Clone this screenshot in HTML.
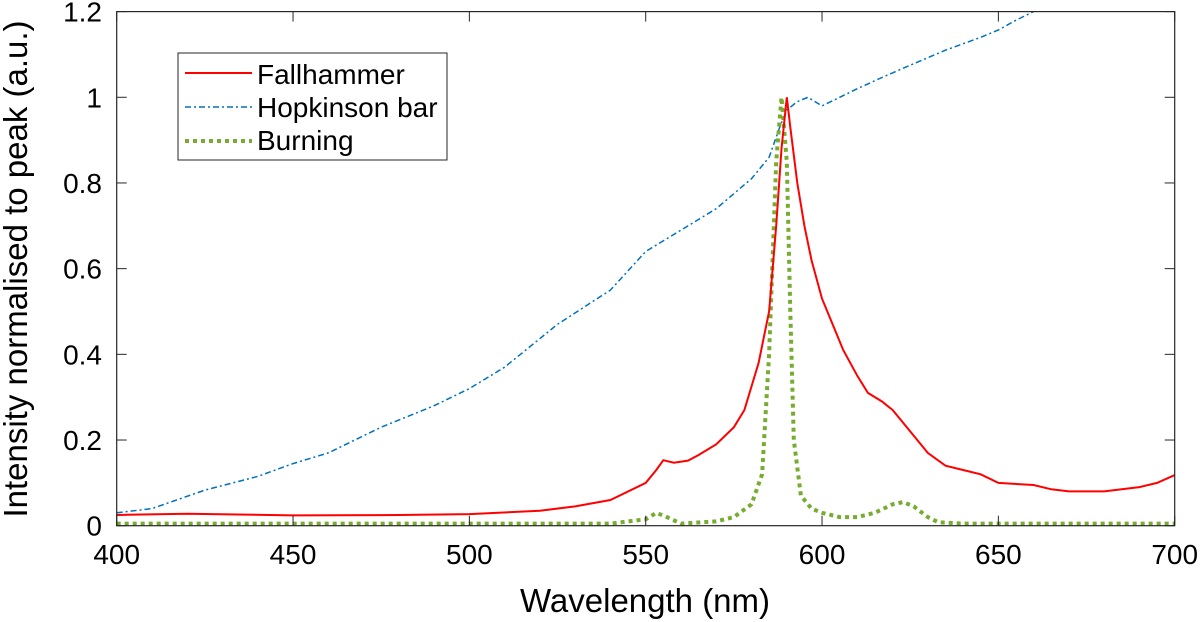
<!DOCTYPE html>
<html><head><meta charset="utf-8"><style>
html,body{margin:0;padding:0;background:#fff;}
svg{display:block;font-family:"Liberation Sans",Arial,sans-serif;}
</style></head><body>
<svg id="chart" width="1200" height="622">
<g id="marks"></g>
<rect x="116.7" y="11.6" width="1058" height="514.1" fill="none" stroke="#262626" stroke-width="1.2"/>
<g id="axes"></g>
<text x="645" y="612" font-size="33" text-anchor="middle" fill="#000">Wavelength (nm)</text>
<text transform="translate(27,269) rotate(-90)" font-size="33" text-anchor="middle" fill="#000">Intensity normalised to peak (a.u.)</text>
<g>
<rect x="178" y="53" width="269" height="107" fill="#fff" stroke="#262626" stroke-width="1"/>
<g>
<line x1="185" y1="73" x2="252" y2="73" stroke="#ff0000" stroke-width="2"/>
<text x="257" y="84" font-size="28" fill="#000">Fallhammer</text></g>
<g>
<line x1="185" y1="107" x2="252" y2="107" stroke="#0072bd" stroke-width="1.5" stroke-dasharray="6,3,2,3"/>
<text x="257" y="117" font-size="28" fill="#000">Hopkinson bar</text></g>
<g>
<line x1="185" y1="141" x2="252" y2="141" stroke="#77ac30" stroke-width="4" stroke-dasharray="4,4"/>
<text x="257" y="150" font-size="28" fill="#000">Burning</text></g>
</g>
</svg>
<script>
const xTicks=[400,450,500,550,600,650,700];
const yTicks=[0,0.2,0.4,0.6,0.8,1,1.2];
const yTickLabels=["0","0.2","0.4","0.6","0.8","1","1.2"];
const fallX=[400,420,450,480,500,520,530,540,550,553,555,558,562,565,570,575,578,582,585,587,588.5,590,591,593,595,597,600,603,606,610,613,617,620,625,630,635,640,645,650,660,665,670,680,690,695,700];
const fallY=[0.025,0.028,0.024,0.025,0.027,0.035,0.045,0.06,0.1,0.13,0.153,0.147,0.152,0.165,0.19,0.23,0.27,0.38,0.5,0.7,0.88,1.0,0.93,0.8,0.7,0.62,0.53,0.47,0.41,0.35,0.31,0.29,0.27,0.22,0.17,0.14,0.13,0.12,0.1,0.095,0.085,0.08,0.08,0.09,0.1,0.118];
const hopX=[400,410,425,440,450,460,475,490,500,510,525,540,550,560,570,580,585,588,590,593,596,600,605,610,618,625,635,645,650,655,660];
const hopY=[0.03,0.04,0.083,0.115,0.145,0.17,0.23,0.28,0.32,0.37,0.47,0.55,0.64,0.69,0.74,0.81,0.86,0.93,0.97,0.99,1.0,0.98,1.0,1.02,1.05,1.075,1.11,1.14,1.157,1.18,1.21];
const burnX=[400,540,550,553,556,560,570,575,580,583,585,587,588.5,590,591,592,594,597,600,605,610,615,620,623,626,630,633,640,700];
const burnY=[0.005,0.005,0.015,0.03,0.02,0.005,0.01,0.02,0.05,0.12,0.4,0.85,1.0,0.85,0.5,0.2,0.07,0.04,0.03,0.02,0.02,0.03,0.05,0.055,0.045,0.02,0.008,0.005,0.005];
const NS="http://www.w3.org/2000/svg";
const X0=116.7,X1=1174.7,Y0=525.7,Y1=11.6;
function sx(v){return X0+(v-400)/300*(X1-X0);}
function sy(v){return Y0-(v/1.2)*(Y0-Y1);}
const marks=document.getElementById('marks'),axes=document.getElementById('axes');
function clipY(v){return Math.max(Y1,sy(v));}
function line(xs,ys,color,w,dash,name){
  const p=document.createElementNS(NS,'polyline');
  p.setAttribute('points',xs.map((x,i)=>sx(x).toFixed(1)+','+clipY(ys[i]).toFixed(1)).join(' '));
  p.setAttribute('fill','none');p.setAttribute('stroke',color);p.setAttribute('stroke-width',w);
  if(dash)p.setAttribute('stroke-dasharray',dash);
  
  
  marks.appendChild(p);
}
line(hopX,hopY,'#0072bd',1.5,'6,3,2,3','series-hopkinson-bar');
line(burnX,burnY,'#77ac30',4,'4,4','series-burning');
line(fallX,fallY,'#ff0000',2,null,'series-fallhammer');
xTicks.forEach(v=>{
  const x=sx(v);
  [[Y0,Y0-10],[Y1,Y1+10]].forEach(([a,b])=>{const l=document.createElementNS(NS,'line');
  l.setAttribute('x1',x);l.setAttribute('x2',x);l.setAttribute('y1',a);l.setAttribute('y2',b);l.setAttribute('stroke','#262626');
  
  
  axes.appendChild(l);});
  const t=document.createElementNS(NS,'text');t.setAttribute('x',x);t.setAttribute('y',564);t.setAttribute('font-size','28');t.setAttribute('text-anchor','middle');t.textContent=v;
  
  
  axes.appendChild(t);
});
yTicks.forEach((v,i)=>{
  const y=sy(v);
  [[X0,X0+10],[X1,X1-10]].forEach(([a,b])=>{const l=document.createElementNS(NS,'line');
  l.setAttribute('x1',a);l.setAttribute('x2',b);l.setAttribute('y1',y);l.setAttribute('y2',y);l.setAttribute('stroke','#262626');
  
  
  axes.appendChild(l);});
  const t=document.createElementNS(NS,'text');t.setAttribute('x',102);t.setAttribute('y',y+10);t.setAttribute('font-size','28');t.setAttribute('text-anchor','end');t.textContent=yTickLabels[i];
  
  
  axes.appendChild(t);
});
</script>
</body></html>
